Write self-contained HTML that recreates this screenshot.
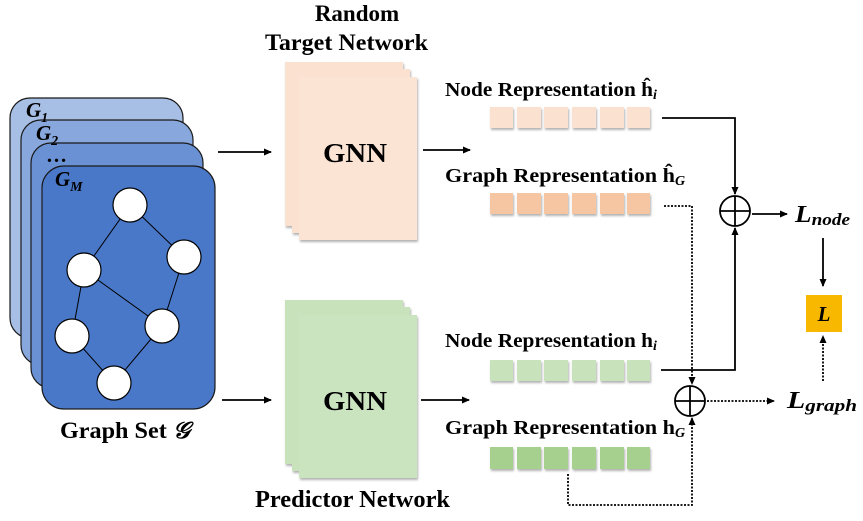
<!DOCTYPE html>
<html><head><meta charset="utf-8"><style>
body{margin:0;background:#fff;}
svg text{font-family:"Liberation Serif",serif;font-weight:bold;}
</style></head><body>
<svg width="863" height="516" viewBox="0 0 863 516" xmlns="http://www.w3.org/2000/svg">
<defs>
<marker id="ar" markerWidth="8" markerHeight="8" refX="7" refY="4" orient="auto" markerUnits="userSpaceOnUse"><path d="M0,0.5 L8,4 L0,7.5 z" fill="#000"/></marker>
<filter id="sh" x="-10%" y="-10%" width="130%" height="140%"><feDropShadow dx="1" dy="2" stdDeviation="1" flood-color="#000" flood-opacity="0.3"/></filter>
</defs>
<g stroke="#1a1a1a" stroke-width="1.2">
<rect x="10" y="98" width="173" height="240" rx="20" fill="#a8bfe5"/>
<rect x="21" y="120" width="172" height="245" rx="20" fill="#88a7dc"/>
<rect x="31" y="143" width="172" height="245" rx="20" fill="#6a91d4"/>
<rect x="42" y="166" width="173" height="243" rx="22" fill="#4a78c9"/>
</g>
<g font-style="italic" font-size="21" fill="#000">
<text x="26" y="117">G<tspan font-size="14" dy="5">1</tspan></text>
<text x="36" y="140">G<tspan font-size="14" dy="5">2</tspan></text>
<text x="46" y="162" font-style="normal">…</text>
<text x="55" y="186">G<tspan font-size="14" dy="5">M</tspan></text>
</g>
<g stroke="#000" stroke-width="1">
<line x1="130" y1="205" x2="84" y2="270"/><line x1="130" y1="205" x2="184" y2="257"/>
<line x1="84" y1="270" x2="72" y2="336"/><line x1="84" y1="270" x2="162" y2="326"/>
<line x1="184" y1="257" x2="162" y2="326"/><line x1="72" y1="336" x2="114" y2="383"/>
<line x1="162" y1="326" x2="114" y2="383"/>
</g>
<g fill="#fff" stroke="#000" stroke-width="1.2">
<circle cx="130" cy="205" r="17"/><circle cx="84" cy="270" r="17"/><circle cx="184" cy="257" r="17"/>
<circle cx="72" cy="336" r="17"/><circle cx="162" cy="326" r="17"/><circle cx="114" cy="383" r="17"/>
</g>
<text x="60" y="438" font-size="23" textLength="130" lengthAdjust="spacingAndGlyphs">Graph Set <tspan font-style="italic">𝒢</tspan></text>
<text x="357" y="21" font-size="23" text-anchor="middle">Random</text>
<text x="265" y="50" font-size="23" textLength="163" lengthAdjust="spacingAndGlyphs">Target Network</text>
<g filter="url(#sh)">
<rect x="285" y="62" width="118" height="164" fill="#fbe1d0"/>
<rect x="292" y="69" width="118" height="164" fill="#fbe1d0"/>
<rect x="299" y="77" width="118" height="163" fill="#fce4d5"/>
</g>
<text x="323" y="162" font-size="27" textLength="64" lengthAdjust="spacingAndGlyphs">GNN</text>
<g filter="url(#sh)">
<rect x="285" y="300" width="118" height="164" fill="#c8e2bc"/>
<rect x="292" y="307" width="118" height="164" fill="#c8e2bc"/>
<rect x="299" y="315" width="118" height="163" fill="#cbe4c0"/>
</g>
<text x="323" y="410" font-size="27" textLength="64" lengthAdjust="spacingAndGlyphs">GNN</text>
<text x="255" y="507" font-size="24" textLength="195" lengthAdjust="spacingAndGlyphs">Predictor Network</text>
<g font-size="20">
<text x="445" y="96"><tspan textLength="208" lengthAdjust="spacingAndGlyphs">Node Representation ĥ</tspan><tspan font-style="italic" font-size="14" dy="3">i</tspan></text>
<text x="445" y="182"><tspan textLength="230" lengthAdjust="spacingAndGlyphs">Graph Representation ĥ</tspan><tspan font-style="italic" font-size="14" dy="3">G</tspan></text>
<text x="445" y="347"><tspan textLength="208" lengthAdjust="spacingAndGlyphs">Node Representation h</tspan><tspan font-style="italic" font-size="14" dy="3">i</tspan></text>
<text x="445" y="434"><tspan textLength="230" lengthAdjust="spacingAndGlyphs">Graph Representation h</tspan><tspan font-style="italic" font-size="14" dy="3">G</tspan></text>
</g>
<g filter="url(#sh)">
<g fill="#fbe1d0"><rect x="490" y="107" width="23" height="21"/><rect x="517" y="107" width="24" height="21"/><rect x="544" y="107" width="24" height="21"/><rect x="572" y="107" width="24" height="21"/><rect x="600" y="107" width="24" height="21"/><rect x="627" y="107" width="23" height="21"/></g>
<g fill="#f6c6a2"><rect x="490" y="193" width="23" height="21"/><rect x="517" y="193" width="24" height="21"/><rect x="544" y="193" width="24" height="21"/><rect x="572" y="193" width="24" height="21"/><rect x="600" y="193" width="24" height="21"/><rect x="627" y="193" width="23" height="21"/></g>
<g fill="#c8e2bc"><rect x="490" y="360" width="23" height="21"/><rect x="517" y="360" width="24" height="21"/><rect x="544" y="360" width="24" height="21"/><rect x="572" y="360" width="24" height="21"/><rect x="600" y="360" width="24" height="21"/><rect x="627" y="360" width="23" height="21"/></g>
<g fill="#a5d08e"><rect x="490" y="447" width="23" height="22"/><rect x="517" y="447" width="24" height="22"/><rect x="544" y="447" width="24" height="22"/><rect x="572" y="447" width="24" height="22"/><rect x="600" y="447" width="24" height="22"/><rect x="627" y="447" width="23" height="22"/></g>
</g>
<g stroke="#000" stroke-width="1.8" fill="none">
<line x1="218" y1="152" x2="271" y2="152" marker-end="url(#ar)"/>
<line x1="222" y1="400" x2="271" y2="400" marker-end="url(#ar)"/>
<line x1="423" y1="150" x2="470" y2="150" marker-end="url(#ar)"/>
<line x1="421" y1="400" x2="469" y2="400" marker-end="url(#ar)"/>
<polyline points="662,118 735,118 735,194" marker-end="url(#ar)"/>
<polyline points="661,370 735,370 735,228" marker-end="url(#ar)"/>
<line x1="752" y1="214" x2="787" y2="214" marker-end="url(#ar)"/>
<line x1="823" y1="238" x2="823" y2="286" marker-end="url(#ar)"/>
</g>
<g stroke="#000" stroke-width="1.8" fill="none" stroke-dasharray="2,1.5">
<polyline points="664,206 692,206 692,384" marker-end="url(#ar)"/>
<polyline points="568,474 568,505 692,505 692,418" marker-end="url(#ar)"/>
<line x1="707" y1="401" x2="774" y2="401" marker-end="url(#ar)"/>
<line x1="823" y1="381" x2="823" y2="336" marker-end="url(#ar)"/>
</g>
<g stroke="#000" stroke-width="1.8" fill="#fff">
<circle cx="735" cy="211" r="15"/><line x1="720" y1="211" x2="750" y2="211"/><line x1="735" y1="196" x2="735" y2="226"/>
<circle cx="690" cy="401" r="15"/><line x1="675" y1="401" x2="705" y2="401"/><line x1="690" y1="386" x2="690" y2="416"/>
</g>
<text x="795" y="222" font-size="24" font-style="italic" textLength="55" lengthAdjust="spacingAndGlyphs">L<tspan font-size="17" dy="3">node</tspan></text>
<text x="787" y="408" font-size="24" font-style="italic" textLength="70" lengthAdjust="spacingAndGlyphs">L<tspan font-size="17" dy="3">graph</tspan></text>
<rect x="806" y="295" width="36" height="37" fill="#f9b800"/>
<text x="824" y="321" font-size="21" font-style="italic" text-anchor="middle">L</text>
</svg>
</body></html>
